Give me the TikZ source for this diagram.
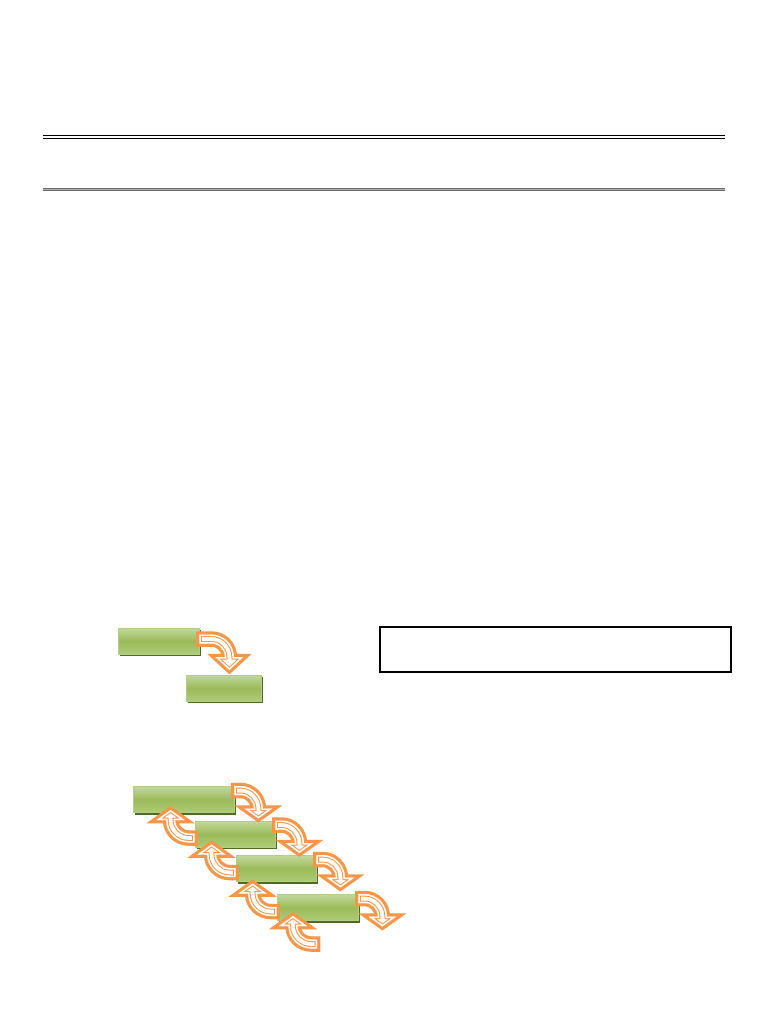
\documentclass[tikz,border=0pt]{standalone}
\usetikzlibrary{shadows}
\definecolor{barlight}{HTML}{C2D89C}
\definecolor{barmid}{HTML}{9BBB59}
\definecolor{barlow}{HTML}{AECB78}
\definecolor{barrim}{HTML}{B3CE86}
\definecolor{barshadow}{HTML}{4F6A22}
\definecolor{looporange}{HTML}{F79646}
% outline of one bent arrow: #1 = straight part, #2 = head length
\newcommand\bentpath[2]{(0,-4.5) -- (#1,-4.5) arc[start angle=270,end angle=360,radius=22.5] -- ++(9.5,0) -- ({#1+18},{18+#2}) -- ({#1+4},18) -- ({#1+13.5},18) arc[start angle=360,end angle=270,radius=13.5] -- (0,4.5) -- cycle}
\begin{document}
\begin{tikzpicture}[x=1pt,y=-1pt,
bar/.style={draw=barrim, line width=0.8pt, top color=barlight, bottom color=barlow, middle color=barmid, minimum height=26pt, inner sep=0pt, drop shadow={shadow xshift=2pt, shadow yshift=-2pt, fill=barshadow, opacity=1}},
pics/bent/.style 2 args={code={
  \draw[looporange, line width=6.5pt] \bentpath{#1}{#2};
  \fill[white] \bentpath{#1}{#2};
  \begin{scope}
    \clip \bentpath{#1}{#2};
    \draw[looporange, line width=5pt] \bentpath{#1}{#2};
    \draw[white, line width=3pt] \bentpath{#1}{#2};
  \end{scope}
}}
]
    \path[fill=white] (0,0) rectangle (768,1024);
    \useasboundingbox (0,0) rectangle (768,1024);

    % rules at the top
    \draw[line width=1.4pt] (43,135.8) -- (725,135.8);
    \draw[line width=0.7pt] (43,138.2) -- (725,138.2);
    \draw[gray!85!black, line width=3.3pt] (43,189.2) -- (725,189.2);
    \draw[gray!60, line width=0.8pt] (43,189.2) -- (725,189.2);

    % two steps
    \node [bar, minimum width=81pt] (a1) at (158.5,641) {};
    \node [bar, minimum width=75pt] (a2) at (223.5,688) {};
    \node [draw, line width=1.2pt, minimum width=351pt, minimum height=45pt] (memo) at (555.5,649.5) {};

    % cascade
    \node [bar, minimum width=101pt] (b1) at (183.5,799.5) {};
    \node [bar, minimum width=80pt] (b2) at (235,834) {};
    \node [bar, minimum width=80pt] (b3) at (276,868.5) {};
    \node [bar, minimum width=81pt] (b4) at (317.5,907.5) {};
    \coordinate (tail) at (317,944);

    \pic at ([yshift=2pt]a1.east) {bent={12}{13}};

    \pic at ([yshift=9pt]b1.east) {bent={6}{10}};
    \pic at ([yshift=9pt]b2.east) {bent={6}{10}};
    \pic at ([yshift=9pt]b3.east) {bent={6}{10}};
    \pic at ([yshift=9pt]b4.east) {bent={6}{10}};
    \pic [rotate=180] at ([yshift=-4pt]b2.west) {bent={6}{10}};
    \pic [rotate=180] at ([yshift=-4pt]b3.west) {bent={6}{10}};
    \pic [rotate=180] at ([yshift=-4pt]b4.west) {bent={6}{10}};
    \pic [rotate=180] at (tail) {bent={6}{10}};
\end{tikzpicture}
\end{document}
